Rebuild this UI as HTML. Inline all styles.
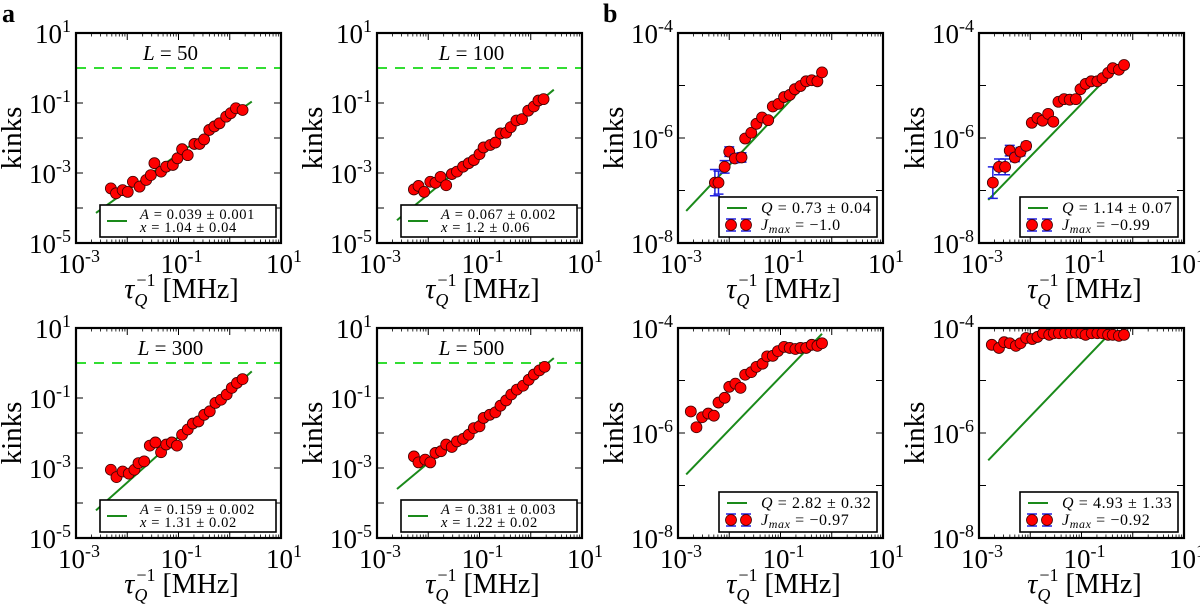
<!DOCTYPE html>
<html><head><meta charset="utf-8"><style>
html,body{margin:0;padding:0;background:#fff;}
svg{display:block;font-family:"Liberation Serif",serif;}
</style></head><body>
<svg id="fig" width="1200" height="606" viewBox="0 0 1200 606">
<text x="2" y="22" font-size="26" font-weight="bold">a</text>
<text x="603" y="22" font-size="26" font-weight="bold">b</text>
</svg>
<script>
// ---- data (log10 values) ----
const a1X=[-2.32,-2.22,-2.09,-1.99,-1.89,-1.76,-1.63,-1.54,-1.47,-1.34,-1.24,-1.11,-1.02,-0.93,-0.82,-0.69,-0.59,-0.50,-0.40,-0.30,-0.20,-0.07,0.02,0.12,0.25];
const a1Y=[-3.44,-3.58,-3.49,-3.54,-3.25,-3.39,-3.20,-3.06,-2.72,-2.96,-2.82,-2.77,-2.58,-2.32,-2.49,-2.17,-2.17,-2.04,-1.77,-1.67,-1.58,-1.39,-1.29,-1.15,-1.20];
const a1FitX=[-2.61,0.43], a1FitY=[-4.14,-0.96];
const a2X=[-2.28,-2.19,-2.08,-1.96,-1.86,-1.76,-1.65,-1.54,-1.44,-1.32,-1.21,-1.11,-1.00,-0.92,-0.79,-0.69,-0.59,-0.48,-0.39,-0.28,-0.17,-0.05,0.06,0.15,0.25];
const a2Y=[-3.47,-3.37,-3.54,-3.25,-3.28,-3.11,-3.35,-3.03,-2.96,-2.82,-2.72,-2.63,-2.46,-2.27,-2.20,-2.13,-1.87,-1.85,-1.69,-1.50,-1.46,-1.22,-1.10,-0.93,-0.89];
const a2FitX=[-2.61,0.45], a2FitY=[-4.35,-0.62];
const a3X=[-2.32,-2.21,-2.09,-1.97,-1.86,-1.78,-1.67,-1.56,-1.45,-1.34,-1.24,-1.13,-1.03,-0.93,-0.82,-0.72,-0.61,-0.50,-0.39,-0.28,-0.17,-0.06,0.04,0.14,0.25];
const a3Y=[-3.05,-3.26,-3.10,-3.16,-3.05,-2.86,-2.81,-2.36,-2.27,-2.55,-2.33,-2.27,-2.36,-2.05,-1.90,-1.73,-1.67,-1.48,-1.38,-1.14,-1.05,-0.90,-0.71,-0.57,-0.46];
const a3FitX=[-2.61,0.43], a3FitY=[-4.21,-0.24];
const a4X=[-2.28,-2.19,-2.06,-1.96,-1.86,-1.75,-1.65,-1.54,-1.44,-1.32,-1.21,-1.11,-1.00,-0.92,-0.80,-0.69,-0.59,-0.48,-0.38,-0.27,-0.15,-0.04,0.06,0.17,0.27];
const a4Y=[-2.67,-2.84,-2.76,-2.84,-2.57,-2.52,-2.33,-2.40,-2.24,-2.17,-2.05,-1.86,-1.81,-1.57,-1.48,-1.41,-1.22,-1.07,-0.90,-0.76,-0.65,-0.48,-0.33,-0.21,-0.11];
const a4FitX=[-2.61,0.45], a4FitY=[-3.60,0.14];
const b1X=[-2.28,-2.21,-2.09,-2.00,-1.89,-1.76,-1.69,-1.57,-1.47,-1.36,-1.24,-1.15,-1.04,-0.93,-0.82,-0.72,-0.61,-0.50,-0.39,-0.28,-0.19];
const b1Y=[-6.85,-6.85,-6.55,-6.26,-6.39,-6.37,-6.01,-5.90,-5.73,-5.61,-5.66,-5.40,-5.35,-5.22,-5.18,-5.07,-5.01,-4.92,-4.90,-4.92,-4.75];
const b1Err=[0.25,0.22,0.12,0.09,0.08,0.09,0.05,0.04,0.03,0.03,0.02,0.02,0.02,0.01,0.01,0.01,0.01,0.01,0.01,0.01,0.01];
const b1FitX=[-2.84,-0.61], b1FitY=[-7.39,-5.08];
const b2X=[-2.73,-2.61,-2.49,-2.40,-2.30,-2.19,-2.08,-1.97,-1.86,-1.76,-1.65,-1.55,-1.45,-1.34,-1.23,-1.11,-1.02,-0.92,-0.81,-0.69,-0.59,-0.48,-0.39,-0.27,-0.17];
const b2Y=[-6.85,-6.55,-6.55,-6.24,-6.37,-6.26,-6.15,-5.71,-5.62,-5.67,-5.54,-5.69,-5.31,-5.26,-5.27,-5.26,-5.07,-4.97,-4.92,-4.92,-4.86,-4.76,-4.67,-4.70,-4.61];
const b2Err=[0.3,0.15,0.15,0.1,0.08,0.08,0.07,0.03,0.03,0.03,0.03,0.03,0.02,0.02,0.02,0.02,0.01,0.01,0.01,0.01,0.01,0.01,0.01,0.01,0.01];
const b2FitX=[-2.82,-0.66], b2FitY=[-7.18,-5.01];
const b3X=[-2.75,-2.64,-2.53,-2.41,-2.30,-2.21,-2.09,-2.00,-1.88,-1.78,-1.69,-1.57,-1.47,-1.35,-1.26,-1.15,-1.05,-0.93,-0.82,-0.71,-0.61,-0.50,-0.39,-0.28,-0.19];
const b3Y=[-5.59,-5.89,-5.70,-5.63,-5.67,-5.42,-5.33,-5.12,-5.06,-5.14,-4.89,-4.84,-4.74,-4.68,-4.54,-4.53,-4.44,-4.36,-4.38,-4.40,-4.38,-4.38,-4.32,-4.34,-4.29];
const b3Err=[0.05,0.06,0.04,0.04,0.04,0.03,0.03,0.02,0.02,0.02,0.02,0.02,0.01,0.01,0.01,0.01,0.01,0.01,0.01,0.01,0.01,0.01,0.01,0.01,0.01];
const b3FitX=[-2.84,-0.19], b3FitY=[-6.79,-4.11];
const b4X=[-2.75,-2.61,-2.51,-2.40,-2.28,-2.19,-2.08,-1.96,-1.86,-1.75,-1.63,-1.54,-1.44,-1.32,-1.21,-1.11,-1.00,-0.92,-0.80,-0.69,-0.59,-0.48,-0.39,-0.27,-0.17];
const b4Y=[-4.32,-4.38,-4.27,-4.29,-4.34,-4.29,-4.19,-4.21,-4.17,-4.10,-4.13,-4.10,-4.10,-4.10,-4.09,-4.09,-4.10,-4.13,-4.10,-4.10,-4.10,-4.13,-4.13,-4.15,-4.13];
const b4Err=[0.04,0.04,0.03,0.03,0.03,0.02,0.02,0.02,0.02,0.01,0.01,0.01,0.01,0.01,0.01,0.01,0.01,0.01,0.01,0.01,0.01,0.01,0.01,0.01,0.01];
const b4FitX=[-2.82,-0.53], b4FitY=[-6.52,-4.19];
const aTitles=["L = 50","L = 100","L = 300","L = 500"];
const aLeg1=["A = 0.039 ± 0.001","A = 0.067 ± 0.002","A = 0.159 ± 0.002","A = 0.381 ± 0.003"];
const aLeg2=["x = 1.04 ± 0.04","x = 1.2 ± 0.06","x = 1.31 ± 0.02","x = 1.22 ± 0.02"];
const bLeg1=["Q = 0.73 ± 0.04","Q = 1.14 ± 0.07","Q = 2.82 ± 0.32","Q = 4.93 ± 1.33"];
const bLeg2=["−1.0","−0.99","−0.97","−0.92"];
const xTickExp=[-3,-1,1];
const aYTickExp=[1,-1,-3,-5];
const bYTickExp=[-4,-6,-8];

const NS="http://www.w3.org/2000/svg";
const svg=document.getElementById('fig');
function mk(tag,attrs,parent){const e=document.createElementNS(NS,tag);for(const k in attrs)e.setAttribute(k,attrs[k]);(parent||svg).appendChild(e);return e;}

const W=205,H=210;
function panel(idx,left,top,ymin,ymax,X,Y,ERR,fx,fy,kind,k){
  const g=mk('g',{});
  
  
  const sx=v=>left+(v+3)/4*W;
  const sy=v=>top+(ymax-v)/(ymax-ymin)*H;
  for(let d=-3;d<=1;d++){
    const x=sx(d);
    if(d>-3&&d<1){mk('line',{x1:x,y1:top+H,x2:x,y2:top+H-7,stroke:'#000','stroke-width':1},g);mk('line',{x1:x,y1:top,x2:x,y2:top+7,stroke:'#000','stroke-width':1},g);}
    if(d<1)for(let m=2;m<10;m++){const xm=sx(d+Math.log10(m));mk('line',{x1:xm,y1:top+H,x2:xm,y2:top+H-3.5,stroke:'#000','stroke-width':0.8},g);mk('line',{x1:xm,y1:top,x2:xm,y2:top+3.5,stroke:'#000','stroke-width':0.8},g);}
  }
  for(let d=ymin+1;d<ymax;d++){const y=sy(d);mk('line',{x1:left,y1:y,x2:left+7,y2:y,stroke:'#000','stroke-width':1},g);mk('line',{x1:left+W,y1:y,x2:left+W-7,y2:y,stroke:'#000','stroke-width':1},g);}
  xTickExp.forEach(e=>{const t=mk('text',{x:sx(e)+3,y:top+H+30,'font-size':27,'text-anchor':'middle'},g);t.innerHTML='10<tspan font-size="18" dy="-11">'+(e<0?'-':'')+Math.abs(e)+'</tspan>';});
  const yt=kind==='a'?aYTickExp:bYTickExp;
  yt.forEach(e=>{const t=mk('text',{x:left-5,y:sy(e)+10,'font-size':27,'text-anchor':'end'},g);t.innerHTML='10<tspan font-size="18" dy="-11">'+(e<0?'-':'')+Math.abs(e)+'</tspan>';});
  const yl=mk('text',{x:left-55,y:top+H/2,'font-size':29,'text-anchor':'middle',transform:'rotate(-90 '+(left-55)+' '+(top+H/2)+')'},g);
  yl.textContent='kinks';
  const xl=mk('text',{x:left+W/2+3,y:top+H+55,'font-size':28,'text-anchor':'middle'},g);
  
  xl.innerHTML='<tspan font-style="italic">τ</tspan><tspan font-size="18" font-style="italic" dy="8">Q</tspan><tspan font-size="18" dy="-20" dx="-11">−1</tspan><tspan dy="12">  [MHz]</tspan>';
  const clip='clip'+idx;
  const cp=mk('clipPath',{id:clip},g);mk('rect',{x:left,y:top,width:W,height:H},cp);
  const inner=mk('g',{'clip-path':'url(#'+clip+')'},g);
  if(kind==='a'){
    const dl=mk('line',{x1:left,x2:left+W,y1:sy(0),y2:sy(0),stroke:'#33dd33','stroke-width':2,'stroke-dasharray':'10,8'},inner);
    
    const tt=mk('text',{x:left+W/2-8,y:top+27,'font-size':21,'text-anchor':'middle'},g);
    
    tt.innerHTML='<tspan font-style="italic">L</tspan> = '+aTitles[k].split('= ')[1];
  }
  const fl=mk('line',{x1:sx(fx[0]),y1:sy(fy[0]),x2:sx(fx[1]),y2:sy(fy[1]),stroke:'#1a8a1a','stroke-width':2},inner);
  
  X.forEach((xv,i)=>{
    if(ERR){const e=ERR[i];if(e>0.015){const x=sx(xv);
      const eb=mk('path',{d:'M'+x+' '+sy(Y[i]+e)+'V'+sy(Y[i]-e)+'M'+(x-5)+' '+sy(Y[i]+e)+'h10M'+(x-5)+' '+sy(Y[i]-e)+'h10',stroke:'#2020e0','stroke-width':1.5,fill:'none'},inner);
      }}
    const c=mk('circle',{cx:sx(xv),cy:sy(Y[i]),r:5.5,fill:'#ff0000',stroke:'#400000','stroke-width':0.8},inner);
    
  });
  mk('rect',{x:left,y:top,width:W,height:H,fill:'none',stroke:'#000','stroke-width':2.2},g);
  const lg=mk('g',{},g);
  
  if(kind==='a'){
    const lx=left+24,ly=top+172;
    mk('rect',{x:lx,y:ly,width:176,height:32,fill:'#fff',stroke:'#000','stroke-width':1.6},lg);
    mk('line',{x1:lx+7,x2:lx+27,y1:ly+16,y2:ly+16,stroke:'#1a8a1a','stroke-width':2},lg);
    const t1=mk('text',{x:lx+40,y:ly+14,'font-size':14.5,'letter-spacing':0.6},lg);
    t1.innerHTML='<tspan font-style="italic">'+aLeg1[k][0]+'</tspan>'+aLeg1[k].slice(1);
    const t2=mk('text',{x:lx+40,y:ly+27,'font-size':14.5,'letter-spacing':0.6},lg);
    t2.innerHTML='<tspan font-style="italic">'+aLeg2[k][0]+'</tspan>'+aLeg2[k].slice(1);
  } else {
    const lx=left+41,ly=top+164;
    mk('rect',{x:lx,y:ly,width:158,height:40,fill:'#fff',stroke:'#000','stroke-width':1.6},lg);
    mk('line',{x1:lx+8,x2:lx+28,y1:ly+11,y2:ly+11,stroke:'#1a8a1a','stroke-width':2},lg);
    [lx+12,lx+27].forEach(cx=>{mk('path',{d:'M'+(cx-5)+' '+(ly+22)+'h10M'+(cx-5)+' '+(ly+34)+'h10',stroke:'#2020e0','stroke-width':1.5},lg);mk('circle',{cx:cx,cy:ly+28,r:5.5,fill:'#ff0000',stroke:'#400000','stroke-width':0.8},lg);});
    const t1=mk('text',{x:lx+42,y:ly+16,'font-size':16,'letter-spacing':0.6},lg);
    t1.innerHTML='<tspan font-style="italic">Q</tspan>'+bLeg1[k].slice(1);
    const t2=mk('text',{x:lx+42,y:ly+33,'font-size':16,'letter-spacing':0.6},lg);
    t2.innerHTML='<tspan font-style="italic">J</tspan><tspan font-style="italic" font-size="12" dy="3">max</tspan><tspan dy="-3"> = '+bLeg2[k]+'</tspan>';
  }
}
const lefts=[76,377,678,979],tops=[33,328];
panel(0,lefts[0],tops[0],-5,1,a1X,a1Y,null,a1FitX,a1FitY,'a',0);
panel(1,lefts[1],tops[0],-5,1,a2X,a2Y,null,a2FitX,a2FitY,'a',1);
panel(2,lefts[0],tops[1],-5,1,a3X,a3Y,null,a3FitX,a3FitY,'a',2);
panel(3,lefts[1],tops[1],-5,1,a4X,a4Y,null,a4FitX,a4FitY,'a',3);
panel(4,lefts[2],tops[0],-8,-4,b1X,b1Y,b1Err,b1FitX,b1FitY,'b',0);
panel(5,lefts[3],tops[0],-8,-4,b2X,b2Y,b2Err,b2FitX,b2FitY,'b',1);
panel(6,lefts[2],tops[1],-8,-4,b3X,b3Y,b3Err,b3FitX,b3FitY,'b',2);
panel(7,lefts[3],tops[1],-8,-4,b4X,b4Y,b4Err,b4FitX,b4FitY,'b',3);
</script>
</body></html>
